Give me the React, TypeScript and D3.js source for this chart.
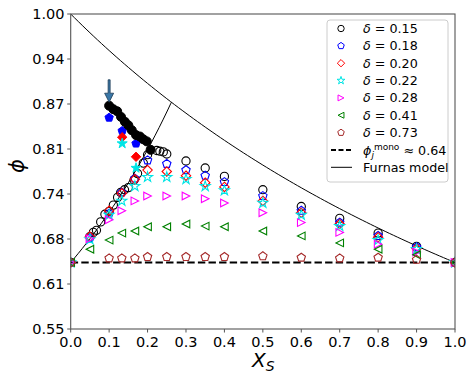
import React from "react";
import * as d3 from "d3";

const PHI_J = 0.645;
const yTicks = [0.55, 0.61, 0.68, 0.74, 0.81, 0.87, 0.94, 1.0];
const yTickVals = d3.range(8).map((i) => 0.55 + (0.45 * i) / 7);
const xTicks = [0, 0.1, 0.2, 0.3, 0.4, 0.5, 0.6, 0.7, 0.8, 0.9, 1.0];

const xs = [0, 0.05, 0.1, 0.133, 0.167, 0.2, 0.25, 0.3, 0.35, 0.4, 0.5, 0.6, 0.7, 0.8, 0.9, 1.0];
const d018 = [0.645, 0.68, 0.715, 0.745, 0.765, 0.791, 0.786, 0.777, 0.769, 0.76, 0.74, 0.719, 0.702, 0.683, 0.667, 0.645];
const d020 = [0.645, 0.682, 0.719, 0.744, 0.764, 0.777, 0.775, 0.769, 0.759, 0.753, 0.733, 0.716, 0.7, 0.681, 0.665, 0.645];
const d022 = [0.645, 0.678, 0.713, 0.733, 0.754, 0.767, 0.767, 0.764, 0.754, 0.748, 0.73, 0.713, 0.697, 0.677, 0.664, 0.645];
const d028 = [0.645, 0.679, 0.706, 0.719, 0.733, 0.74, 0.74, 0.74, 0.736, 0.73, 0.716, 0.702, 0.688, 0.671, 0.66, 0.645];
const d041 = [0.645, 0.664, 0.677, 0.687, 0.69, 0.696, 0.696, 0.7, 0.697, 0.696, 0.69, 0.683, 0.673, 0.664, 0.656, 0.645];
const d073 = [0.645, null, 0.651, 0.651, 0.651, 0.653, 0.653, 0.653, 0.653, 0.653, 0.654, 0.652, 0.651, 0.652, 0.649, 0.645];

const x015 = [0, 0.05, 0.059, 0.067, 0.078, 0.089, 0.1, 0.111, 0.122, 0.13, 0.14, 0.15, 0.165, 0.174, 0.189, 0.2, 0.224, 0.232, 0.241, 0.25, 0.3, 0.35, 0.4, 0.5, 0.6, 0.7, 0.8, 0.9, 1.0];
const d015 = [0.645, 0.682, 0.688, 0.691, 0.703, 0.714, 0.718, 0.727, 0.738, 0.745, 0.749, 0.752, 0.763, 0.772, 0.787, 0.799, 0.805, 0.804, 0.803, 0.8, 0.79, 0.78, 0.768, 0.749, 0.725, 0.708, 0.687, 0.668, 0.645];

const fBlackX = [0.1, 0.111, 0.121, 0.131, 0.141, 0.15, 0.159, 0.17, 0.18, 0.189, 0.198, 0.208];
const fBlackY = [0.869, 0.864, 0.861, 0.853, 0.846, 0.841, 0.834, 0.827, 0.825, 0.821, 0.818, 0.806];
const fBlueX = [0.1, 0.134, 0.17];
const fBlueY = [0.852, 0.833, 0.815];
const fRedX = [0.134, 0.17];
const fRedY = [0.824, 0.796];
const fCyanX = [0.134, 0.17];
const fCyanY = [0.815, 0.78];

const arrowX = 0.1;
const arrowTop = 0.906;
const arrowTip = 0.874;

const W = 474, H = 379;
const x = d3.scaleLinear().domain([0, 1]).range([70.7, 455]);
const y = d3.scaleLinear().domain([0.55, 1]).range([329, 14]);

type Shape = "circle" | "pentagon" | "diamond" | "star" | "tright" | "tleft";

function shapePath(s: Shape, r: number): string {
  const pts: [number, number][] = [];
  if (s === "circle") {
    return `M${r},0A${r},${r} 0 1,1 ${-r},0A${r},${r} 0 1,1 ${r},0Z`;
  } else if (s === "pentagon") {
    for (let k = 0; k < 5; k++) {
      const a = (-90 + 72 * k) * Math.PI / 180;
      pts.push([r * Math.cos(a), r * Math.sin(a)]);
    }
  } else if (s === "star") {
    for (let k = 0; k < 10; k++) {
      const a = (-90 + 36 * k) * Math.PI / 180;
      const rr = k % 2 === 0 ? r : r * 0.382;
      pts.push([rr * Math.cos(a), rr * Math.sin(a)]);
    }
  } else if (s === "diamond") {
    pts.push([0, -r], [r, 0], [0, r], [-r, 0]);
  } else if (s === "tright") {
    pts.push([r, 0], [-r, -r], [-r, r]);
  } else if (s === "tleft") {
    pts.push([-r, 0], [r, -r], [r, r]);
  }
  return "M" + pts.map((p) => p.join(",")).join("L") + "Z";
}

const sizes: Record<Shape, number> = { circle: 4.1, pentagon: 4.4, diamond: 4.7, star: 5.3, tright: 3.8, tleft: 3.8 };

type Series = { label: string; xsv: number[]; ys: (number | null)[]; color: string; shape: Shape };
const series: Series[] = [
  { label: "0.15", xsv: x015, ys: d015, color: "#000000", shape: "circle" },
  { label: "0.18", xsv: xs, ys: d018, color: "#0000ff", shape: "pentagon" },
  { label: "0.20", xsv: xs, ys: d020, color: "#ff0000", shape: "diamond" },
  { label: "0.22", xsv: xs, ys: d022, color: "#00e5e5", shape: "star" },
  { label: "0.28", xsv: xs, ys: d028, color: "#ff00ff", shape: "tright" },
  { label: "0.41", xsv: xs, ys: d041, color: "#008000", shape: "tleft" },
  { label: "0.73", xsv: xs, ys: d073, color: "#a52a2a", shape: "pentagon" },
];

const filled = [
  { xsv: fBlueX, ys: fBlueY, color: "#0000ff", shape: "pentagon" as Shape },
  { xsv: fRedX, ys: fRedY, color: "#ff0000", shape: "diamond" as Shape },
  { xsv: fCyanX, ys: fCyanY, color: "#00e5e5", shape: "star" as Shape },
  { xsv: fBlackX, ys: fBlackY, color: "#000000", shape: "circle" as Shape },
];

export default function App() {
  const xStar = (1 - PHI_J) / (2 - PHI_J);
  const upper = d3.range(0, 1.0001, 0.01).map((X) => [X, 1 / (1 + X * (1 / PHI_J - 1))] as [number, number]);
  const lower = d3.range(0, xStar, 0.01).concat([xStar]).map((X) => [X, PHI_J / (1 - X)] as [number, number]);
  const line = d3.line<[number, number]>().x((d) => x(d[0])).y((d) => y(d[1]));
  const font = "DejaVu Sans";
  const legX = 327, legY = 20, legW = 121, legH = 162;
  const rowY = (i: number) => 28.5 + i * 17.35;

  return (
    <svg width={W} height={H} style={{ position: "absolute", left: 0, top: 0, background: "#fff" }} fontFamily={font}>
      <defs>
        <clipPath id="plot">
          <rect x={70.7} y={14} width={455 - 70.7} height={329 - 14} />
        </clipPath>
      </defs>
      <g clipPath="url(#plot)">
        <line x1={x(0)} x2={x(1)} y1={y(PHI_J)} y2={y(PHI_J)} stroke="#000" strokeWidth={2} strokeDasharray="7.4,3.2" />
        <path d={line(upper) || ""} fill="none" stroke="#000" strokeWidth={1} />
        <path d={line(lower) || ""} fill="none" stroke="#000" strokeWidth={1} />
        {series.map((s, si) => (
          <g key={si}>
            {s.ys.map((v, i) =>
              v == null ? null : (
                <path key={i} d={shapePath(s.shape, sizes[s.shape])} transform={`translate(${x(s.xsv[i])},${y(v)})`} fill="none" stroke={s.color} strokeWidth={1.1} />
              )
            )}
          </g>
        ))}
        {filled.map((s, si) => (
          <g key={si}>
            {s.ys.map((v, i) => (
              <path key={i} d={shapePath(s.shape, sizes[s.shape] + (s.shape === "circle" ? 0.4 : 0))} transform={`translate(${x(s.xsv[i])},${y(v)})`} fill={s.color} stroke={s.color} strokeWidth={1} />
            ))}
          </g>
        ))}
        <path
          d={`M${x(arrowX) - 1},${y(arrowTop)}L${x(arrowX) + 1},${y(arrowTop)}L${x(arrowX) + 1},${y(arrowTip) - 9}L${x(arrowX) + 4.5},${y(arrowTip) - 9}L${x(arrowX)},${y(arrowTip)}L${x(arrowX) - 4.5},${y(arrowTip) - 9}L${x(arrowX) - 1},${y(arrowTip) - 9}Z`}
          fill="#3a78a8"
          stroke="#1d3b55"
          strokeWidth={0.8}
        />
      </g>
      <rect x={70.7} y={14} width={455 - 70.7} height={329 - 14} fill="none" stroke="#555" strokeWidth={1.1} />
      {xTicks.map((t, i) => (
        <g key={i}>
          <line x1={x(t)} x2={x(t)} y1={329} y2={332.5} stroke="#555" strokeWidth={1} />
          <text x={x(t)} y={347} fontSize={14.5} textAnchor="middle" fill="#000">{t.toFixed(1)}</text>
        </g>
      ))}
      {yTickVals.map((t, i) => (
        <g key={i}>
          <line x1={67.2} x2={70.7} y1={y(t)} y2={y(t)} stroke="#555" strokeWidth={1} />
          <text x={64.5} y={y(t)} dy="0.36em" fontSize={14.5} textAnchor="end" fill="#000">{yTicks[i].toFixed(2)}</text>
        </g>
      ))}
      <text x={252} y={367} fontSize={20} fontStyle="italic" fill="#000">
        X<tspan fontSize={14} dy={4}>S</tspan>
      </text>
      <text transform="translate(24,166) rotate(-90)" fontSize={21} fontStyle="italic" textAnchor="middle" fill="#000">ϕ</text>
      <rect x={legX} y={legY} width={legW} height={legH} rx={3} fill="#fff" fillOpacity={0.8} stroke="#cccccc" strokeWidth={1} />
      {series.map((s, i) => (
        <g key={i}>
          <path d={shapePath(s.shape, sizes[s.shape] * 0.78)} transform={`translate(341,${rowY(i)})`} fill="none" stroke={s.color} strokeWidth={1} />
          <text x={363} y={rowY(i)} dy="0.36em" fontSize={12.7} fill="#000">
            <tspan fontStyle="italic">δ</tspan> = {s.label}
          </text>
        </g>
      ))}
      <line x1={331} x2={352} y1={rowY(7)} y2={rowY(7)} stroke="#000" strokeWidth={2} strokeDasharray="5,2.5" />
      <text x={363} y={rowY(7)} dy="0.36em" fontSize={12.7} fill="#000">
        <tspan fontStyle="italic">ϕ</tspan>
        <tspan fontStyle="italic" fontSize={9} dy={3}>j</tspan>
        <tspan fontSize={9} dy={-8}>mono</tspan>
        <tspan dy={5}> ≈ 0.64</tspan>
      </text>
      <line x1={331} x2={352} y1={rowY(8)} y2={rowY(8)} stroke="#000" strokeWidth={1} />
      <text x={363} y={rowY(8)} dy="0.36em" fontSize={12.7} fill="#000">Furnas model</text>
    </svg>
  );
}
